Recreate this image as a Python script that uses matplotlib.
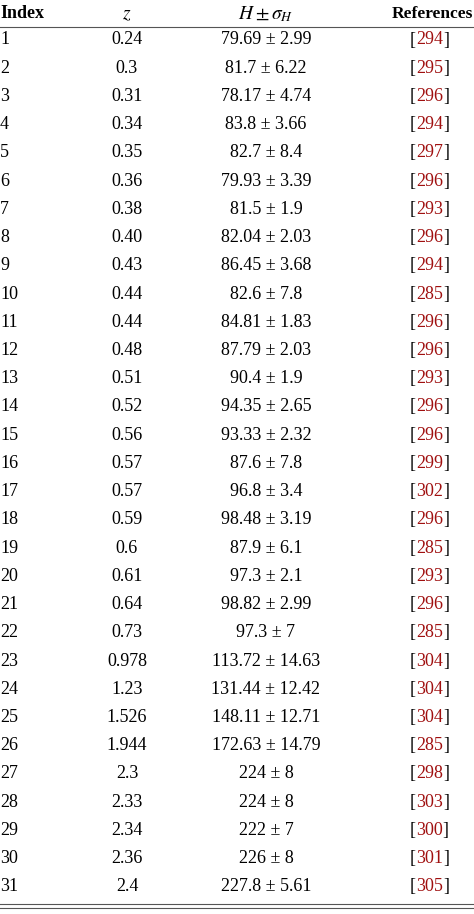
import matplotlib
matplotlib.use("Agg")
import matplotlib.pyplot as plt

index = list(range(1, 32))
z = ["0.24","0.3","0.31","0.34","0.35","0.36","0.38","0.40","0.43","0.44","0.44","0.48","0.51","0.52","0.56","0.57","0.57","0.59","0.6","0.61","0.64","0.73","0.978","1.23","1.526","1.944","2.3","2.33","2.34","2.36","2.4"]
H = ["79.69","81.7","78.17","83.8","82.7","79.93","81.5","82.04","86.45","82.6","84.81","87.79","90.4","94.35","93.33","87.6","96.8","98.48","87.9","97.3","98.82","97.3","113.72","131.44","148.11","172.63","224","224","222","226","227.8"]
sigma = ["2.99","6.22","4.74","3.66","8.4","3.39","1.9","2.03","3.68","7.8","1.83","2.03","1.9","2.65","2.32","7.8","3.4","3.19","6.1","2.1","2.99","7","14.63","12.42","12.71","14.79","8","8","7","8","5.61"]
refs = ["294","295","296","294","297","296","293","296","294","285","296","296","293","296","296","299","302","296","285","293","296","285","304","304","304","285","298","303","300","301","305"]
headers = ["Index", "$z$", r"$H \pm \sigma_H$", "References"]

plt.rcParams['mathtext.fontset'] = 'stix'
W, Hh = 474, 914
fig = plt.figure(figsize=(W/100, Hh/100), dpi=100)
ax = fig.add_axes([0, 0, 1, 1])
ax.set_xlim(0, W); ax.set_ylim(Hh, 0); ax.axis('off')
fam = 'Liberation Serif'
fs = 13
red = '#a01010'

hy = 14
ax.text(0, hy, headers[0], ha='left', va='center', fontsize=fs, family=fam, fontweight='bold')
ax.text(127, hy, headers[1], ha='center', va='center', fontsize=fs+1)
ax.text(266, hy, headers[2], ha='center', va='center', fontsize=fs+1)
ax.text(473, hy, headers[3], ha='right', va='center', fontsize=fs-0.5, family=fam, fontweight='bold')
ax.plot([0, W], [27, 27], color='#555555', lw=0.8)

y0, dy = 40, 28.23
for i in range(len(index)):
    y = y0 + i*dy
    ax.text(0, y, str(index[i]), ha='left', va='center', fontsize=fs, family=fam)
    ax.text(127, y, z[i], ha='center', va='center', fontsize=fs, family=fam)
    ax.text(266, y, f"{H[i]} \u00b1 {sigma[i]}", ha='center', va='center', fontsize=fs, family=fam)
    t1 = ax.text(410, y, "[", ha='left', va='center', fontsize=fs, family=fam)
    t2 = ax.annotate(refs[i], xy=(1, 0), xycoords=t1, ha='left', va='bottom', fontsize=fs, family=fam, color=red)
    ax.annotate("]", xy=(1, 0), xycoords=t2, ha='left', va='bottom', fontsize=fs, family=fam)

ax.plot([0, W], [904, 904], color='#555555', lw=0.8)
ax.plot([0, W], [908, 908], color='#555555', lw=0.8)
fig.savefig("out.png", dpi=100)
